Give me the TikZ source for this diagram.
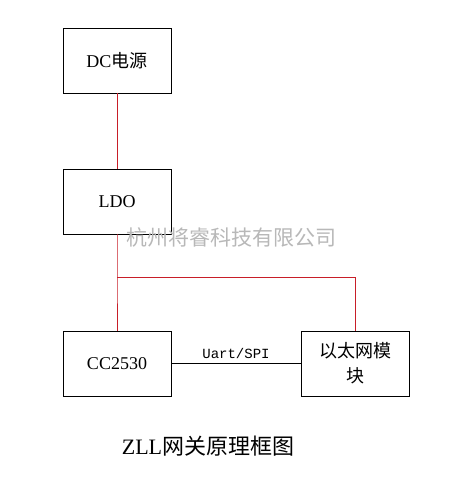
\documentclass[tikz,border=0pt]{standalone}
\usepackage{fontspec}
\setmainfont{Liberation Serif}
\newfontfamily\cjk{Noto Sans CJK SC}
\newfontfamily\mono{Liberation Mono}
\definecolor{pwrred}{RGB}{200,30,40}
\begin{document}
\begin{tikzpicture}[x=1pt,y=-1pt,
  blk/.style={draw=black,line width=0.9pt,minimum width=108pt,minimum height=65pt,inner sep=0pt,font=\fontsize{18}{20}\selectfont},
  pwr/.style={draw=pwrred,line width=1pt},
  sig/.style={draw=black,line width=0.9pt}]
\useasboundingbox[fill=white] (0,0) rectangle (462,478);
\node[blk] (dc) at (117,60.5) {DC{\cjk 电源}};
\node[blk] (ldo) at (117,201.5) {LDO};
\node[blk] (cc) at (117,363.5) {CC2530};
\node[blk,align=center,font=\cjk\fontsize{18}{25}\selectfont] (eth) at (355,363.5) {以太网模\\块};
\coordinate (j1) at (117,277);
\coordinate (j2) at (355,277);
\draw[pwr] (dc.south) -- (ldo.north);
\draw[pwr] (ldo.south) -- (j1) -- (cc.north);
\draw[pwr] (j1) -- (j2) -- (eth.north);
\draw[sig] (cc.east) -- node[above=1pt,font=\mono\fontsize{14}{16}\selectfont] (lbl) {Uart/SPI} (eth.west);
\node[font=\cjk\fontsize{21}{24}\selectfont,text=black!28] (wm) at (231,237) {杭州将睿科技有限公司};
\node[font=\fontsize{22}{26}\selectfont] (title) at (208,446) {ZLL{\cjk 网关原理框图}};
\end{tikzpicture}
\end{document}
